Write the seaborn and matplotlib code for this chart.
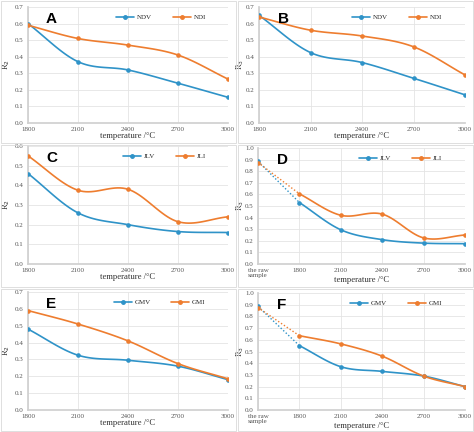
import numpy as np
import pandas as pd
import matplotlib
matplotlib.use("Agg")
import matplotlib.pyplot as plt
from matplotlib.lines import Line2D
import seaborn as sns

# === data ===
temps = ["1800", "2100", "2400", "2700", "3000"]
temps_raw = ["the raw\nsample", "1800", "2100", "2400", "2700", "3000"]

ndv_r2 = [0.60, 0.37, 0.32, 0.24, 0.155]
ndi_r2 = [0.59, 0.51, 0.47, 0.41, 0.265]
ndv_r3 = [0.65, 0.425, 0.365, 0.27, 0.17]
ndi_r3 = [0.64, 0.56, 0.525, 0.46, 0.29]
jlv_r2 = [0.46, 0.26, 0.20, 0.165, 0.16]
jli_r2 = [0.55, 0.375, 0.38, 0.215, 0.24]
jlv_r3 = [0.885, 0.53, 0.295, 0.21, 0.18, 0.175]
jli_r3 = [0.875, 0.605, 0.42, 0.43, 0.225, 0.25]
gmv_r2 = [0.48, 0.325, 0.295, 0.26, 0.18]
gmi_r2 = [0.59, 0.51, 0.41, 0.275, 0.185]
gmv_r3 = [0.885, 0.55, 0.37, 0.33, 0.29, 0.20]
gmi_r3 = [0.875, 0.635, 0.565, 0.46, 0.29, 0.20]

BLUE = "#2f93c8"
ORANGE = "#ee7d2f"
SERIF = ["Liberation Serif", "DejaVu Serif"]

sns.set_theme(style="whitegrid")
plt.rcParams["font.family"] = SERIF


def smooth(x, y, n=20):
    # catmull-rom curve through the points, for drawing only (like excel smooth line)
    x = np.asarray(x, float)
    y = np.asarray(y, float)
    px = np.r_[2 * x[0] - x[1], x, 2 * x[-1] - x[-2]]
    py = np.r_[2 * y[0] - y[1], y, 2 * y[-1] - y[-2]]
    xs, ys = [], []
    t = np.linspace(0, 1, n)
    for i in range(1, len(px) - 2):
        for p, out in ((px, xs), (py, ys)):
            p0, p1, p2, p3 = p[i - 1], p[i], p[i + 1], p[i + 2]
            out.extend(0.5 * (2 * p1 + (-p0 + p2) * t
                              + (2 * p0 - 5 * p1 + 4 * p2 - p3) * t ** 2
                              + (-p0 + 3 * p1 - 3 * p2 + p3) * t ** 3))
    return np.array(xs), np.array(ys)


def panel(box, letter, labels, sv, si, names, ylab, ymax, raw=False):
    left, right, row, top, bottom = box
    w, h = right - left, bottom - top
    ax = fig.add_axes([left / 474, (432 - (144 * row + bottom)) / 432, w / 474, h / 432])
    x = np.arange(len(labels))
    for vals, col in ((sv, BLUE), (si, ORANGE)):
        start = 1 if raw else 0
        if raw:
            sns.lineplot(x=x[:2], y=vals[:2], ax=ax, color=col, lw=1.0,
                         linestyle=(0, (1, 1.5)), sort=False)
        xs, ys = smooth(x[start:], vals[start:])
        sns.lineplot(x=xs, y=ys, ax=ax, color=col, lw=1.2, sort=False)
        sns.scatterplot(x=x, y=vals, ax=ax, color=col, s=11, edgecolor=col,
                        linewidth=0, zorder=5)
    ax.set_xlim(0, len(labels) - 1)
    ax.set_ylim(0, ymax)
    ax.set_xticks(x)
    ax.set_xticklabels(labels, linespacing=0.95)
    yt = np.arange(0, ymax + 0.001, 0.1)
    ax.set_yticks(yt)
    ax.set_yticklabels(["%.1f" % v for v in yt])
    ax.tick_params(labelsize=5, colors="#555555", length=0, pad=3)
    ax.grid(True, color="#e4e4e4", lw=0.6)
    for s in ax.spines.values():
        s.set_visible(False)
    for s in ("left", "bottom"):
        ax.spines[s].set_visible(True)
        ax.spines[s].set_color("#d0d0d0")
    ax.set_xlabel("temperature /°C", fontsize=6.2, color="#333333")
    ax.xaxis.set_label_coords(0.5, -9 / h if not raw else -12 / h)
    ax.set_ylabel(ylab, fontsize=6, color="#333333")
    if left > 237:
        off, anchor = left - 237, 9
    else:
        off, anchor = left, 12
    ax.yaxis.set_label_coords(-(off - anchor) / w, 0.5)
    ax.text(0.09, 0.9, letter, transform=ax.transAxes,
            fontsize=11, fontweight="bold", family="Liberation Sans",
            va="center", ha="left", color="black")
    handles = [Line2D([], [], color=BLUE, marker="o", ms=2.5, lw=1.2),
               Line2D([], [], color=ORANGE, marker="o", ms=2.5, lw=1.2)]
    ax.legend(handles, names, loc="upper right", bbox_to_anchor=(0.92, 0.99),
              ncol=2, frameon=False, fontsize=5, handlelength=2.6,
              columnspacing=3.0, handletextpad=0.4)
    return ax


fig = plt.figure(figsize=(4.74, 4.32), dpi=100)

# light chart-area borders
for cx in (0, 237):
    for ry in (0, 144, 288):
        fig.patches.append(plt.Rectangle((cx / 474 + 0.002, 1 - (ry + 143) / 432),
                                         235 / 474, 142 / 432, transform=fig.transFigure,
                                         fill=False, ec="#d9d9d9", lw=0.6))

panel((28, 228, 0, 7, 123), "A", temps, ndv_r2, ndi_r2, ["NDV", "NDI"], "R$_2$", 0.7)
panel((259, 465, 0, 7, 123), "B", temps, ndv_r3, ndi_r3, ["NDV", "NDI"], "R$_3$", 0.7)
panel((28, 228, 1, 2, 120), "C", temps, jlv_r2, jli_r2, ["JLV", "JLI"], "R$_2$", 0.6)
panel((258, 465, 1, 4, 120), "D", temps_raw, jlv_r3, jli_r3, ["JLV", "JLI"], "R$_3$", 1.0, raw=True)
panel((28, 228, 2, 4, 122), "E", temps, gmv_r2, gmi_r2, ["GMV", "GMI"], "R$_2$", 0.7)
panel((258, 465, 2, 5, 122), "F", temps_raw, gmv_r3, gmi_r3, ["GMV", "GMI"], "R$_3$", 1.0, raw=True)

fig.savefig("out.png", dpi=100)
